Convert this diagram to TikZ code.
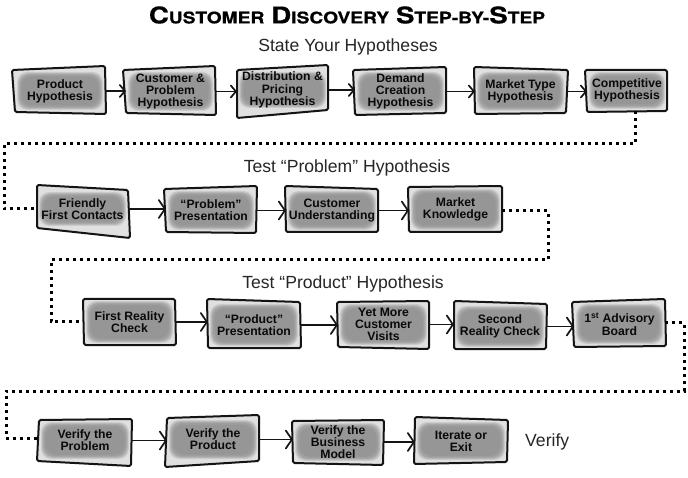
\documentclass[tikz,border=0pt]{standalone}
\usepackage{fontspec}
\setmainfont{Liberation Sans}
\usetikzlibrary{arrows.meta,positioning}
\pgfdeclarearrow{
  name=Chevron,
  parameters={\the\pgfarrowlength,\the\pgfarrowwidth},
  setup code={%
    \pgfarrowssettipend{0pt}%
    \pgfarrowssetlineend{-1pt}%
    \pgfarrowssavethe\pgfarrowlength
    \pgfarrowssavethe\pgfarrowwidth
    \pgfarrowshullpoint{0pt}{0pt}%
    \pgfarrowsupperhullpoint{-\pgfarrowlength}{0.5\pgfarrowwidth}%
  },
  drawing code={%
    \pgfsetdash{}{0pt}%
    \pgfsetlinewidth{1.7pt}%
    \pgfsetroundcap
    \pgfsetmiterjoin
    \pgfpathmoveto{\pgfqpoint{-\pgfarrowlength}{0.5\pgfarrowwidth}}%
    \pgfpathlineto{\pgfqpoint{-0.9pt}{0pt}}%
    \pgfpathlineto{\pgfqpoint{-\pgfarrowlength}{-0.5\pgfarrowwidth}}%
    \pgfusepathqstroke
  },
  defaults={length=7pt,width=14pt}
}
\tikzset{
  outline/.style={draw=black!92,line width=2pt,line join=round,rounded corners=1.5pt,fill=black!12},
  boxtext/.style={font=\fontsize{12.2}{12.2}\selectfont\bfseries,align=center,text=black!96,inner sep=0pt,rectangle},
  flow/.style={draw=black!92,line width=1.6pt,-{Chevron[length=6pt,width=12pt]}},
  flowwide/.style={draw=black!92,line width=1.6pt,-{Chevron[length=7pt,width=18pt]}},
  dots/.style={draw=black,line width=3pt,dash pattern=on 3pt off 4pt},
  heading/.style={font=\fontsize{17.6}{20}\selectfont,text=black!85,inner sep=0pt},
}
\newcommand{\stepbox}[9]{%
  \def\thename{#1}%
  \def\xa{#2}\def\ya{#3}\def\xb{#4}\def\yb{#5}\def\xc{#6}\def\yc{#7}\def\xd{#8}\def\yd{#9}%
  \stepboxfinish}
\newcommand{\stepboxfinish}[1]{%
  \draw[outline] (\xa,\ya) -- (\xb,\yb) -- (\xc,\yc) -- (\xd,\yd) -- cycle;
  \pgfmathsetmacro{\mylx}{max(\xa,\xd)}\pgfmathsetmacro{\myrx}{min(\xb,\xc)}%
  \pgfmathsetmacro{\myty}{max(\ya,\yb)}\pgfmathsetmacro{\myby}{min(\yc,\yd)}%
  \fill[black!20,rounded corners=10pt] (\mylx+2,\myty+2) rectangle (\myrx-2,\myby-2);
  \fill[black!28,rounded corners=10pt] (\mylx+3,\myty+3) rectangle (\myrx-3,\myby-3);
  \fill[black!34,rounded corners=10pt] (\mylx+4,\myty+4) rectangle (\myrx-4,\myby-4);
  \fill[black!38,rounded corners=10pt] (\mylx+5,\myty+5) rectangle (\myrx-5,\myby-5);
  \fill[black!41,rounded corners=10pt] (\mylx+6.5,\myty+6.5) rectangle (\myrx-6.5,\myby-6.5);
  \pgfmathsetmacro{\mycx}{(\mylx+\myrx)/2}\pgfmathsetmacro{\mycy}{(\myty+\myby)/2}%
  \pgfmathsetmacro{\mywd}{\myrx-\mylx}\pgfmathsetmacro{\myht}{\myby-\myty}%
  \node[boxtext,minimum width=\mywd pt,minimum height=\myht pt] (\thename) at (\mycx,\mycy) {#1};
}
\newfontfamily\titlefont[BoldFeatures={FakeStretch=1.2,FakeBold=0.6}]{TeX Gyre Heros}
\newcommand{\titlebig}[1]{{\fontsize{23}{24}\selectfont #1}}
\newcommand{\titlesmall}[1]{{\fontsize{16}{24}\selectfont #1}}
\begin{document}
\begin{tikzpicture}[x=1pt,y=-1pt]
\useasboundingbox (0,0) rectangle (688,478);
\fill[white] (0,0) rectangle (688,478);

% title
\node[inner sep=0pt,text=black] (title) at (347,15) {\titlefont\bfseries
  \titlebig{C}\titlesmall{USTOMER}\hspace{7pt}\titlebig{D}\titlesmall{ISCOVERY}\hspace{7pt}\titlebig{S}\titlesmall{TEP-BY-}\titlebig{S}\titlesmall{TEP}};

\node[heading] (h1) at (348,47) {State Your Hypotheses};
\node[heading] (h2) at (347,168) {Test “Problem” Hypothesis};
\node[heading] (h3) at (343,284) {Test “Product” Hypothesis};
\node[heading,anchor=west] (h4) at (525,442) {Verify};

% row 1
\stepbox{p1}{12}{70}{105}{66}{106}{114}{15}{112}{Product\\Hypothesis}
\stepbox{p2}{123}{70}{215}{66}{216}{115}{126}{113}{Customer \&\\Problem\\Hypothesis}
\stepbox{p3}{237}{70}{328}{65}{328}{110}{237}{118}{Distribution \&\\Pricing\\Hypothesis}
\stepbox{p4}{353}{70}{446}{67}{446}{113}{355}{115}{Demand\\Creation\\Hypothesis}
\stepbox{p5}{474}{67}{568}{70}{566}{113}{475}{114}{Market Type\\Hypothesis}
\stepbox{p6}{585}{70}{667}{70}{667}{111}{587}{112}{Competitive\\Hypothesis}

% row 2
\stepbox{q1}{37}{185}{128}{190}{130}{238}{37}{228}{Friendly\\First Contacts}
\stepbox{q2}{164}{189}{257}{186}{256}{233}{166}{232}{“Problem”\\Presentation}
\stepbox{q3}{285}{186}{378}{189}{378}{232}{286}{232}{Customer\\Understanding}
\stepbox{q4}{408}{187}{502}{186}{502}{232}{409}{232}{Market\\Knowledge}

% row 3
\stepbox{r1}{83}{299}{175}{299}{176}{345}{84}{345}{First Reality\\Check}
\stepbox{r2}{207}{299}{300}{302}{301}{348}{208}{348}{“Product”\\Presentation}
\stepbox{r3}{337}{302}{429}{301}{429}{349}{338}{347}{Yet More\\Customer\\Visits}
\stepbox{r4}{454}{301}{547}{304}{546}{349}{454}{349}{Second\\Reality Check}
\stepbox{r5}{572}{302}{665}{299}{666}{346}{574}{347}{1\textsuperscript{st} Advisory\\Board}

% row 4
\stepbox{s1}{39}{420}{132}{419}{131}{466}{37}{461}{Verify the\\Problem}
\stepbox{s2}{167}{418}{259}{415}{259}{461}{165}{467}{Verify the\\Product}
\stepbox{s3}{292}{421}{384}{420}{383}{465}{293}{463}{Verify the\\Business\\Model}
\stepbox{s4}{415}{417}{508}{420}{507}{462}{414}{464}{Iterate or\\Exit}

% arrows
\foreach \a/\b in {p1/p2,p2/p3,p3/p4,p4/p5,p5/p6}
  \draw[flow] (\a.east) -- (\a.east -| \b.west);
\foreach \a/\b in {q1/q2,q2/q3,q3/q4,r1/r2,r2/r3,r3/r4,r4/r5,s1/s2,s2/s3,s3/s4}
  \draw[flowwide] (\a.east) -- (\a.east -| \b.west);

% dotted connectors
\coordinate (c1a) at (635,144);
\coordinate (c1b) at (4,144);
\coordinate (c1c) at (4,209);
\draw[dots] (p6.south -| c1a) -- (c1a) -- (c1b) -- (c1c) -- (c1c -| q1.west);
\coordinate (c2a) at (548,211);
\coordinate (c2b) at (548,260);
\coordinate (c2c) at (51,260);
\coordinate (c2d) at (51,322);
\draw[dots] (q4.east |- c2a) -- (c2a) -- (c2b) -- (c2c) -- (c2d) -- (r1.west |- c2d);
\coordinate (c3a) at (684,323);
\coordinate (c3b) at (684,391);
\coordinate (c3c) at (6,391);
\coordinate (c3d) at (6,438);
\draw[dots] (r5.east |- c3a) -- (c3a) -- (c3b) -- (c3c) -- (c3d) -- (s1.west |- c3d);
\end{tikzpicture}
\end{document}
